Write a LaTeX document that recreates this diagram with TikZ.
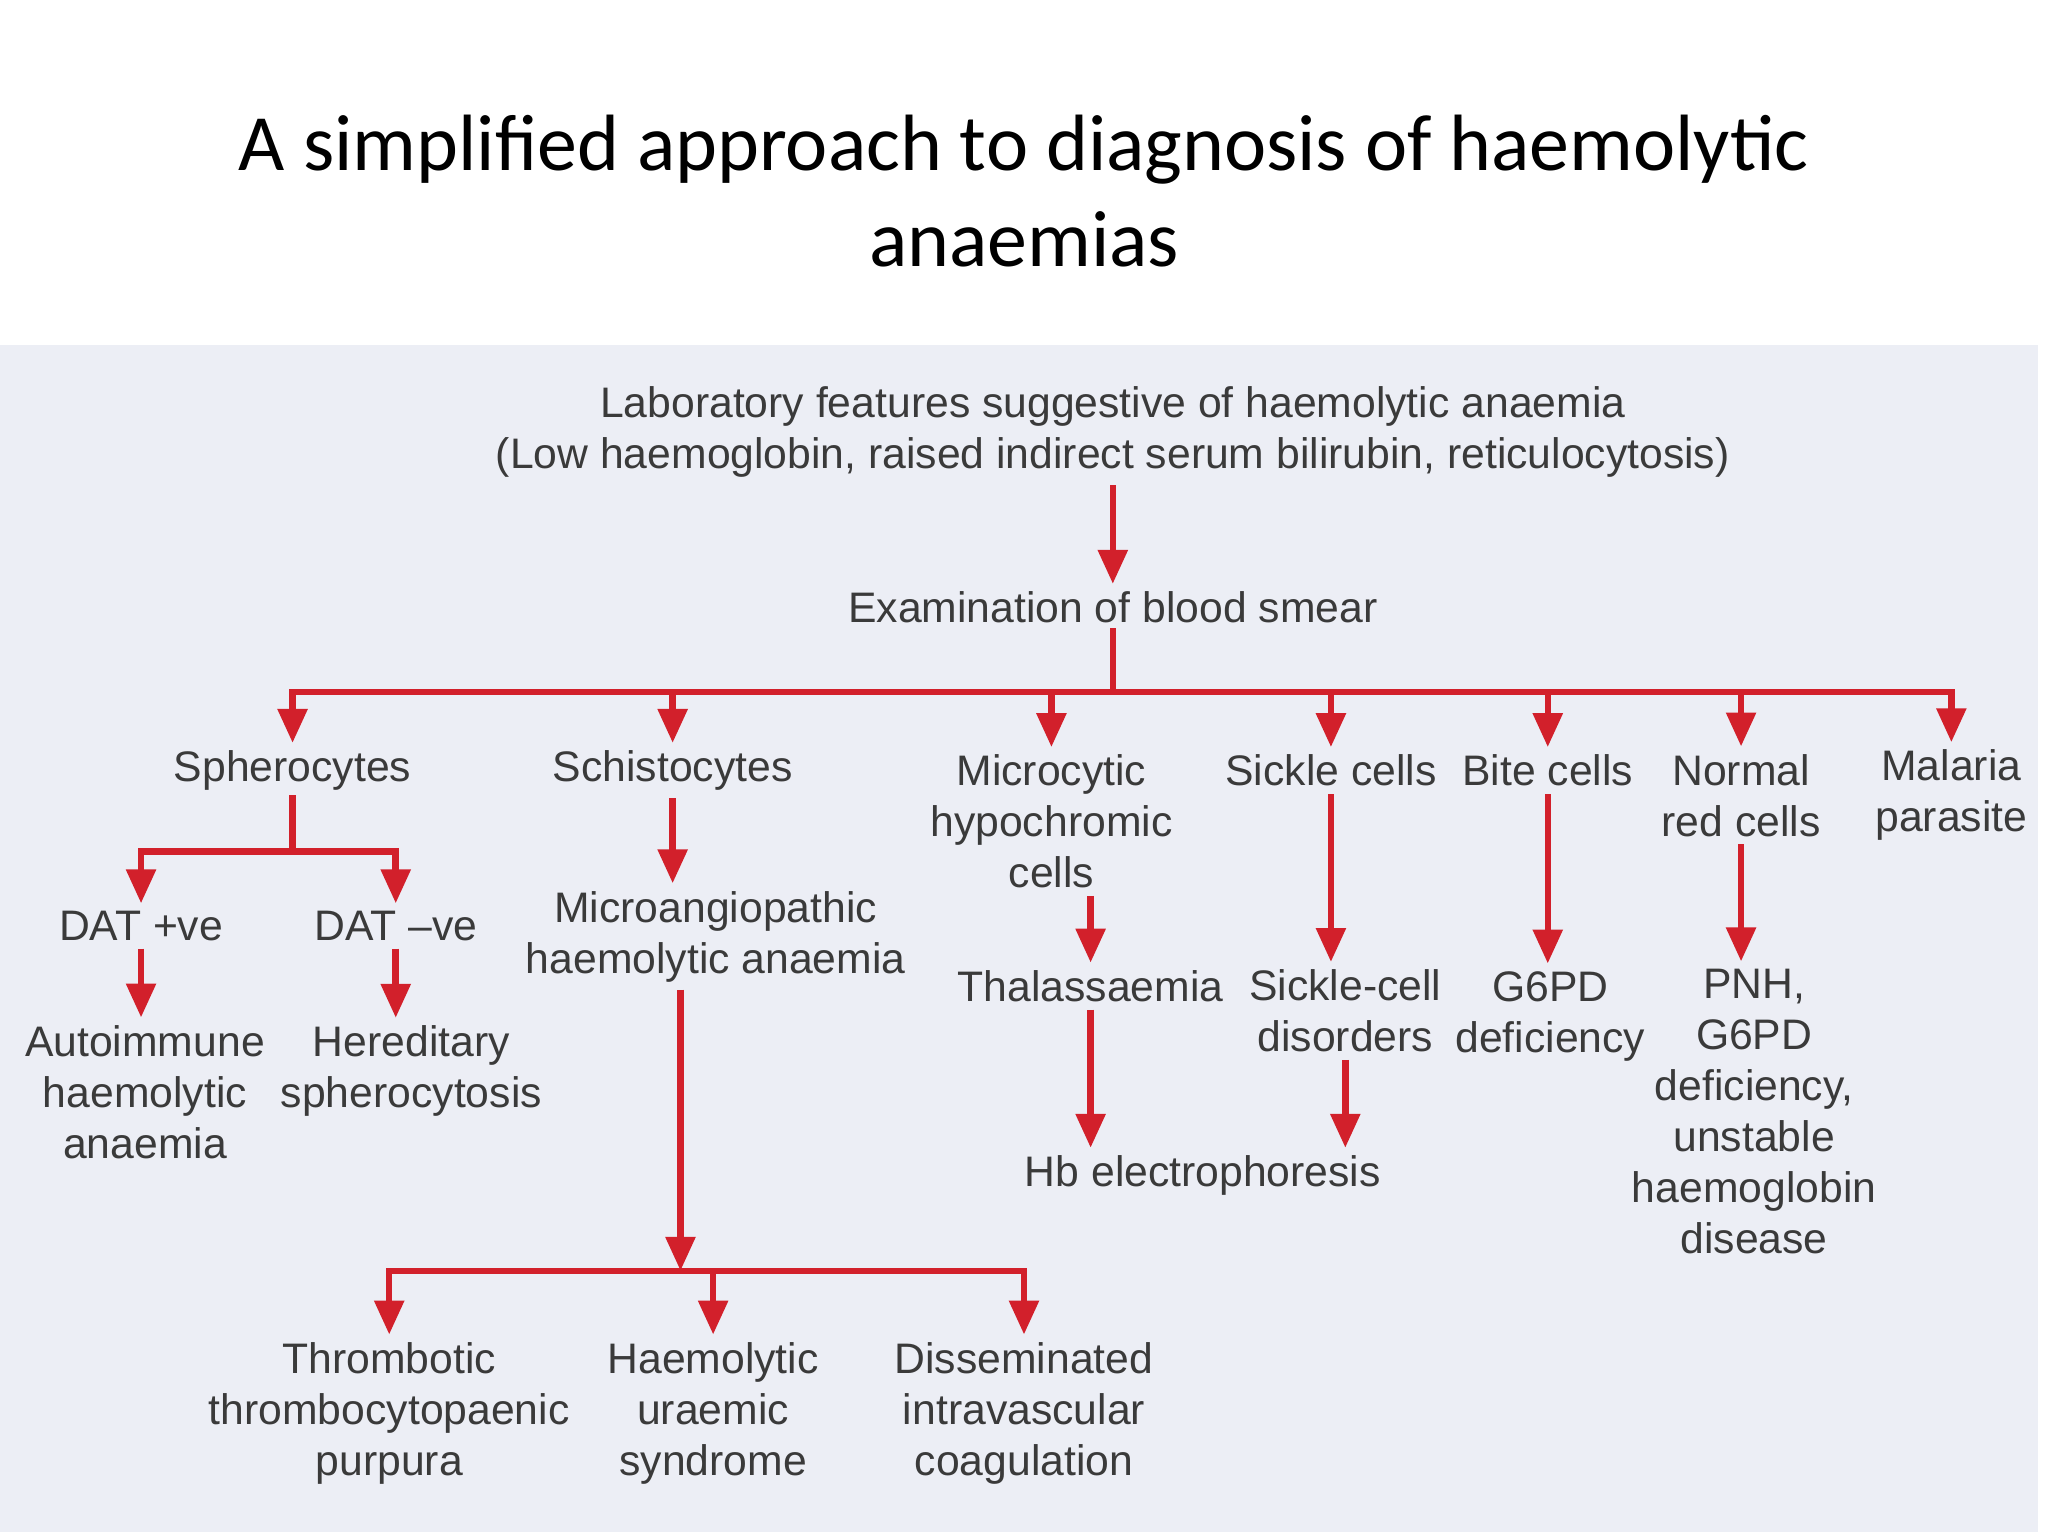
\documentclass[tikz,border=0pt]{standalone}
\usepackage{fontspec}
\setmainfont{Liberation Sans}
\newfontfamily\titlefont{Carlito}
\usetikzlibrary{arrows.meta}

\definecolor{ink}{HTML}{3A3A3A}
\definecolor{flowred}{HTML}{D2202B}
\definecolor{panel}{HTML}{ECEEF5}

\newcommand{\entryfont}[0]{\fontsize{9.3}{11.1}\selectfont}
\tikzstyle{link} = [draw=flowred,line width=0.5mm,line cap=rect]
\tikzstyle{dedge} = [draw=flowred,line width=0.5mm,-{Triangle[length=2.6mm,width=2.2mm]}]
\tikzstyle{entry}=[
  align=center,
  anchor=center,
  inner sep=1.5pt,
  text=ink,
  font=\entryfont,
]
\tikzstyle{heading}=[
  align=center,
  anchor=center,
  text=black,
  font=\titlefont\fontsize{17.4}{21}\selectfont,
]

\begin{document}
\begin{tikzpicture}
  \useasboundingbox (-85.2mm,-84.5mm) rectangle (71.6mm,33.1mm);
  \fill[white] (-85.2mm,-84.5mm) rectangle (71.6mm,33.1mm);
  \fill[panel] (-85.2mm,-84.2mm) rectangle (70.8mm,6.7mm);

  \node[entry] (lab) at (0,0) {Laboratory features suggestive of haemolytic anaemia\\(Low haemoglobin, raised indirect serum bilirubin, reticulocytosis)};
  \node[heading] (title) at ([xshift=-6.8mm, yshift=18.45mm] lab.center) {A simplified approach to diagnosis of haemolytic\\anaemias};
  \node[entry] (exam) at ([yshift=-13.4mm] lab.center) {Examination of blood smear};
  \draw[dedge] (lab) -- (exam);

  % what the smear shows
  \node[entry] (sphero) at ([xshift=-62.8mm, yshift=-12.5mm] exam.center) {Spherocytes};
  \node[entry] (schisto) at ([xshift=-33.7mm, yshift=-12.5mm] exam.center) {Schistocytes};
  \node[entry] (micro) at ([xshift=-4.7mm, yshift=-16.4mm] exam.center) {Microcytic\\hypochromic\\cells};
  \node[entry] (sickle) at ([xshift=16.7mm, yshift=-12.5mm] exam.center) {Sickle cells};
  \node[entry] (bite) at ([xshift=33.3mm, yshift=-12.5mm] exam.center) {Bite cells};
  \node[entry] (normal) at ([xshift=48.1mm, yshift=-14.4mm] exam.center) {Normal\\red cells};
  \node[entry] (malaria) at ([xshift=64.2mm, yshift=-14.4mm] exam.center) {Malaria\\parasite};
  \coordinate (split) at ([yshift=-6.5mm] exam.center);
  \draw[link] (exam) -- (split);
  \draw[link] (sphero |- split) -- (malaria |- split);
  \draw[dedge] (sphero |- split) -- (sphero.north);
  \draw[dedge] (schisto |- split) -- (schisto.north);
  \draw[dedge] (micro |- split) -- (micro.north);
  \draw[dedge] (sickle |- split) -- (sickle.north);
  \draw[dedge] (bite |- split) -- (bite.north);
  \draw[dedge] (normal |- split) -- (normal.north);
  \draw[dedge] (malaria |- split) -- (malaria.north);

  % spherocytes
  \node[entry] (datpos) at ([xshift=-11.6mm, yshift=-11.9mm] sphero.center) {DAT +ve};
  \node[entry] (datneg) at ([xshift=7.9mm, yshift=-11.9mm] sphero.center) {DAT --ve};
  \node[entry] (autoimm) at ([xshift=0.3mm, yshift=-12.7mm] datpos.center) {Autoimmune\\haemolytic\\anaemia};
  \node[entry] (hered) at ([xshift=1.2mm, yshift=-11.1mm] datneg.center) {Hereditary\\spherocytosis};
  \coordinate (sphsplit) at ([yshift=-6.2mm] sphero.center);
  \draw[link] (sphero) -- (sphsplit);
  \draw[link] (datpos |- sphsplit) -- (datneg |- sphsplit);
  \draw[dedge] (datpos |- sphsplit) -- (datpos.north);
  \draw[dedge] (datneg |- sphsplit) -- (datneg.north);
  \draw[dedge] (datpos) -- (datpos |- autoimm.north);
  \draw[dedge] (datneg) -- (datneg |- hered.north);

  % schistocytes
  \node[entry] (microang) at ([xshift=3.3mm, yshift=-12.7mm] schisto.center) {Microangiopathic\\haemolytic anaemia};
  \node[entry] (ttp) at ([xshift=-25mm, yshift=-36.5mm] microang.center) {Thrombotic\\thrombocytopaenic\\purpura};
  \node[entry] (hus) at ([xshift=-0.2mm, yshift=-36.5mm] microang.center) {Haemolytic\\uraemic\\syndrome};
  \node[entry] (dic) at ([xshift=23.6mm, yshift=-36.5mm] microang.center) {Disseminated\\intravascular\\coagulation};
  \coordinate (angsplit) at ([xshift=-2.7mm, yshift=-25.6mm] microang.center);
  \draw[dedge] (schisto) -- (schisto |- microang.north);
  \draw[dedge] (angsplit |- microang.south) -- (angsplit);
  \draw[link] (ttp |- angsplit) -- (dic |- angsplit);
  \draw[dedge] (ttp |- angsplit) -- (ttp.north);
  \draw[dedge] (hus |- angsplit) -- (hus.north);
  \draw[dedge] (dic |- angsplit) -- (dic.north);

  % microcytic and sickle cells
  \node[entry] (thal) at ([xshift=3mm, yshift=-12.6mm] micro.center) {Thalassaemia};
  \node[entry] (hbe) at ([xshift=8.6mm, yshift=-14.5mm] thal.center) {Hb electrophoresis};
  \node[entry] (scd) at ([xshift=1.1mm, yshift=-18.4mm] sickle.center) {Sickle-cell\\disorders};
  \draw[dedge] (thal |- micro.south) -- (thal.north);
  \draw[dedge] (thal) -- (thal |- hbe.north);
  \draw[dedge] (sickle) -- (sickle |- scd.north);
  \draw[dedge] (scd) -- (scd |- hbe.north);

  % bite and normal cells
  \node[entry] (g6pd) at ([xshift=0.2mm, yshift=-18.8mm] bite.center) {G6PD\\deficiency};
  \node[entry] (pnh) at ([xshift=1mm, yshift=-24.2mm] normal.center) {PNH,\\G6PD\\deficiency,\\unstable\\haemoglobin\\disease};
  \draw[dedge] (bite) -- (bite |- g6pd.north);
  \draw[dedge] (normal) -- (normal |- pnh.north);
\end{tikzpicture}
\end{document}
